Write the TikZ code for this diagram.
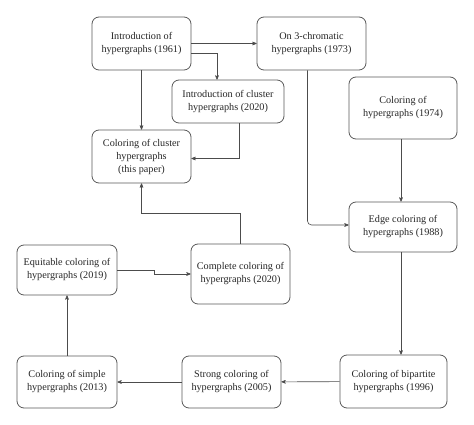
\documentclass[tikz,border=0pt]{standalone}
\usepackage{fontspec}
\setmainfont{Liberation Serif}
\usetikzlibrary{arrows,positioning,calc}

\begin{document}
\begin{tikzpicture}[x=1pt, y=-1pt, ->, >=stealth', semithick, draw=black!70]
\tikzstyle{every node}=[font=\fontsize{10.2}{13}\selectfont, text=black!85]
\tikzstyle{topic}=[draw=black!65, thick, rounded corners=7pt, align=center, inner sep=2pt]
\useasboundingbox (0,0) rectangle (474,425);
% upper part
\node[topic, minimum width=99pt,  minimum height=53pt] (intro)   at (141.5,43.5) {Introduction of\\hypergraphs (1961)};
\node[topic, minimum width=109pt, minimum height=53pt] (chrom)   at (311.5,43.5) {On 3-chromatic\\hypergraphs (1973)};
\node[topic, minimum width=112pt, minimum height=43pt] (introcl) at (228,101.5)  {Introduction of cluster\\hypergraphs (2020)};
\node[topic, minimum width=108pt, minimum height=62pt] (col)     at (403,108)    {Coloring of\\hypergraphs (1974)};
\node[topic, minimum width=99pt,  minimum height=53pt] (paper)   at (141.5,156.5) {Coloring of cluster\\hypergraphs\\(this paper)};
\node[topic, minimum width=108pt, minimum height=50pt] (edgecol) at (403,227)    {Edge coloring of\\hypergraphs (1988)};
% lower part
\node[topic, minimum width=100pt, minimum height=50pt] (equit)   at (67,270)     {Equitable coloring of\\hypergraphs (2019)};
\node[topic, minimum width=99pt,  minimum height=60pt] (complete) at (240.5,274) {Complete coloring of\\hypergraphs (2020)};
\node[topic, minimum width=100pt, minimum height=52pt] (simple)  at (67,382)     {Coloring of simple\\hypergraphs (2013)};
\node[topic, minimum width=99pt,  minimum height=52pt] (strong)  at (231.5,382)  {Strong coloring of\\hypergraphs (2005)};
\node[topic, minimum width=107pt, minimum height=53pt] (bip)     at (393.5,381.5) {Coloring of bipartite\\hypergraphs (1996)};
\coordinate (turn) at (141.5,213);

\draw (intro) -- (chrom);
\draw ([yshift=-10]intro.east) -| ([xshift=-11]introcl.north);
\draw (intro) -- (paper);
\draw ([xshift=11]introcl.south) |- ([yshift=-2]paper.east);
\draw (complete.north) |- (turn) -- (paper.south);
\draw[rounded corners=4pt] ([xshift=-4]chrom.south) |- ([yshift=2]edgecol.west);
\draw ([xshift=-2]col.south) -- ([xshift=-2]edgecol.north);
\draw ([xshift=-2]edgecol.south) -- ([xshift=-2]edgecol.south |- bip.north);
\draw (bip) -- (strong);
\draw (strong) -- (simple);
\draw (simple) -- (equit);
\draw (equit.east) -- ++(37,0) |- (complete.west);

\end{tikzpicture}
\end{document}
